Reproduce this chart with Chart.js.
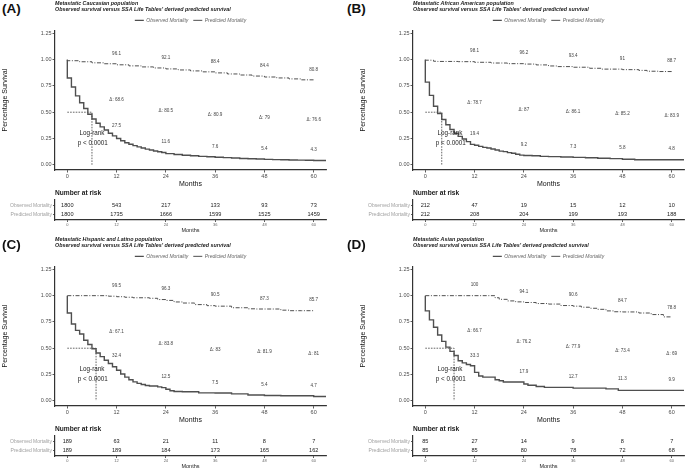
<!DOCTYPE html>
<html><head><meta charset="utf-8">
<script src="https://cdn.jsdelivr.net/npm/chart.js@4.4.1/dist/chart.umd.min.js"></script>
<style>
html,body{margin:0;padding:0;background:#fff;overflow:hidden;width:685px;height:472px;position:relative;}
canvas{position:absolute;}
.lbl{position:absolute;font:bold 13.5px "Liberation Sans",Arial,sans-serif;color:#111;line-height:1;}
</style></head><body>
<script>
// ---------- shared ----------
const xTicks=[0,12,24,36,48,60];
const yTicks=[0,0.25,0.5,0.75,1,1.25];
const labelTimes=[12,24,36,48,60];
const seriesNames=["Observed Mortality","Predicted Mortality"];
const riskRows=["Observed Mortality","Predicted Mortality"];
const subtitleText="Observed survival versus SSA Life Tables' derived predicted survival";

// ---------- Panel A ----------
const titleA="Metastatic Caucasian population";
const obsTimeA=[0,0,1,2,3,4,5,6,7,8,9,10,11,12,13,14,15,16,17,18,19,20,21,22,23,24,26,28,30,32,34,36,38,40,42,44,46,48,50,52,54,56,58,60,62,63];
const obsSurvA=[1,0.92,0.825,0.74,0.655,0.59,0.535,0.48,0.435,0.395,0.36,0.33,0.30,0.275,0.25,0.228,0.21,0.195,0.182,0.17,0.159,0.149,0.14,0.131,0.123,0.116,0.106,0.098,0.091,0.085,0.08,0.076,0.072,0.068,0.064,0.06,0.057,0.054,0.051,0.049,0.047,0.045,0.044,0.043,0.041,0.041];
const predTimeA=[0,3,6,9,12,15,18,21,24,27,30,33,36,39,42,45,48,51,54,57,60];
const predSurvA=[1,0.99,0.98,0.97,0.961,0.951,0.941,0.931,0.921,0.912,0.902,0.893,0.884,0.874,0.864,0.854,0.844,0.835,0.826,0.817,0.808];
const medianA=6;
const predLabA=[96.1,92.1,88.4,84.4,80.8];
const obsLabA=[27.5,11.6,7.6,5.4,4.3];
const deltaLabA=[68.6,80.5,80.9,79,76.6];
const riskObsA=[1800,543,217,133,93,73];
const riskPredA=[1800,1735,1666,1599,1525,1459];

// ---------- Panel B ----------
const titleB="Metastatic African American population";
const obsTimeB=[0,0,1,2,3,4,5,6,7,8,9,10,11,12,13,14,15,16,17,18,19,20,21,22,23,24,26,28,30,33,36,39,42,45,48,51,54,63];
const obsSurvB=[1,0.91,0.786,0.66,0.557,0.487,0.43,0.38,0.335,0.30,0.27,0.245,0.22,0.194,0.185,0.175,0.165,0.16,0.15,0.14,0.13,0.125,0.115,0.11,0.10,0.092,0.088,0.085,0.08,0.077,0.073,0.07,0.066,0.062,0.058,0.053,0.048,0.048];
const predTimeB=[0,2,3,8,12,16,20,24,27,30,32,36,40,43,48,52,54,57,60];
const predSurvB=[1,0.995,0.985,0.983,0.981,0.975,0.968,0.962,0.958,0.95,0.94,0.934,0.928,0.918,0.91,0.905,0.898,0.89,0.887];
const medianB=4;
const predLabB=[98.1,96.2,93.4,91,88.7];
const obsLabB=[19.4,9.2,7.3,5.8,4.8];
const deltaLabB=[78.7,87,86.1,85.2,83.9];
const riskObsB=[212,47,19,15,12,10];
const riskPredB=[212,208,204,199,193,188];

// ---------- Panel C ----------
const titleC="Metastatic Hispanic and Latino population";
const obsTimeC=[0,0,1,2,3,4,5,6,7,8,9,10,11,12,13,14,15,16,17,18,19,20,22,23,24,25,26,28,32,36,40,44,48,52,60,62,63];
const obsSurvC=[1,0.92,0.835,0.73,0.67,0.635,0.575,0.535,0.495,0.455,0.42,0.385,0.355,0.324,0.29,0.255,0.225,0.2,0.18,0.165,0.155,0.145,0.14,0.132,0.125,0.11,0.095,0.088,0.085,0.075,0.073,0.065,0.054,0.05,0.047,0.04,0.04];
const predTimeC=[0,10,12,14,16,20,22,24,26,28,31,34,36,40,44,46,48,52,54,57,60];
const predSurvC=[1,1,0.995,0.99,0.985,0.98,0.975,0.963,0.955,0.94,0.93,0.915,0.905,0.9,0.885,0.875,0.873,0.873,0.862,0.857,0.857];
const medianC=7;
const predLabC=[99.5,96.3,90.5,87.3,85.7];
const obsLabC=[32.4,12.5,7.5,5.4,4.7];
const deltaLabC=[67.1,83.8,83,81.9,81];
const riskObsC=[189,63,21,11,8,7];
const riskPredC=[189,189,184,173,165,162];

// ---------- Panel D ----------
const titleD="Metastatic Asian population";
const obsTimeD=[0,0,1,2,3,4,5,6,7,8,9,10,11,12,13,14,17,18,19,24,25,27,29,36,44,47,53,63];
const obsSurvD=[1,0.92,0.855,0.77,0.70,0.625,0.565,0.51,0.47,0.43,0.38,0.36,0.345,0.333,0.27,0.235,0.225,0.2,0.19,0.179,0.16,0.147,0.135,0.127,0.12,0.113,0.099,0.099];
const predTimeD=[0,17,18,20,22,24,27,30,33,36,38,40,42,44,46,48,52,55,58,60];
const predSurvD=[1,1,0.98,0.965,0.95,0.941,0.935,0.925,0.92,0.906,0.9,0.89,0.88,0.87,0.855,0.847,0.845,0.835,0.82,0.798];
const medianD=7;
const predLabD=[100,94.1,90.6,84.7,78.8];
const obsLabD=[33.3,17.9,12.7,11.3,9.9];
const deltaLabD=[66.7,76.2,77.9,73.4,69];
const riskObsD=[85,27,14,9,8,7];
const riskPredD=[85,85,80,78,72,68];

// ---------- layout ----------
const FONT='"Liberation Sans", Arial, sans-serif';
Chart.defaults.font.family=FONT;
const panels=[
 {tag:'(A)',ox:0,oy:0,lx:2,ly:2,title:titleA,obsT:obsTimeA,obsS:obsSurvA,predT:predTimeA,predS:predSurvA,median:medianA,predLab:predLabA,obsLab:obsLabA,deltaLab:deltaLabA,riskObs:riskObsA,riskPred:riskPredA},
 {tag:'(B)',ox:358,oy:0,lx:347,ly:2,title:titleB,obsT:obsTimeB,obsS:obsSurvB,predT:predTimeB,predS:predSurvB,median:medianB,predLab:predLabB,obsLab:obsLabB,deltaLab:deltaLabB,riskObs:riskObsB,riskPred:riskPredB},
 {tag:'(C)',ox:0,oy:236,lx:2,ly:238,title:titleC,obsT:obsTimeC,obsS:obsSurvC,predT:predTimeC,predS:predSurvC,median:medianC,predLab:predLabC,obsLab:obsLabC,deltaLab:deltaLabC,riskObs:riskObsC,riskPred:riskPredC},
 {tag:'(D)',ox:358,oy:236,lx:347,ly:238,title:titleD,obsT:obsTimeD,obsS:obsSurvD,predT:predTimeD,predS:predSurvD,median:medianD,predLab:predLabD,obsLab:obsLabD,deltaLab:deltaLabD,riskObs:riskObsD,riskPred:riskPredD}
];

const AXIS='#333333';
const LINE='#4f4f4f';

function mkCanvas(left,top,w,h){
  const c=document.createElement('canvas');
  c.width=w;c.height=h;c.style.left=left+'px';c.style.top=top+'px';
  c.style.width=w+'px';c.style.height=h+'px';
  document.body.appendChild(c);return c;
}

function annotPlugin(p){
  return {id:'annot',afterDatasetsDraw(chart){
    const {ctx,scales:{x,y}}=chart;
    ctx.save();ctx.textAlign='center';ctx.textBaseline='middle';
    ctx.font='4.6px '+FONT;ctx.fillStyle='#444';
    labelTimes.forEach((t,i)=>{
      const px=x.getPixelForValue(t);
      ctx.fillText(String(p.predLab[i]),px,y.getPixelForValue(p.predLab[i]/100+0.1));
      ctx.fillText(String(p.obsLab[i]),px,y.getPixelForValue(p.obsLab[i]/100+0.1));
      ctx.fillText('\u0394: '+p.deltaLab[i],px,y.getPixelForValue((p.predLab[i]+p.obsLab[i])/200));
    });
    ctx.font='6.3px '+FONT;ctx.fillStyle='#222';
    ctx.fillText('Log-rank',x.getPixelForValue(6),y.getPixelForValue(0.297));
    ctx.fillText('p < 0.0001',x.getPixelForValue(6.2),y.getPixelForValue(0.2));
    ctx.restore();
  }};
}

function riskPlugin(p){
  return {id:'risk',afterDatasetsDraw(chart){
    const ctx=chart.ctx;
    ctx.save();ctx.textAlign='center';ctx.textBaseline='middle';
    ctx.font='5.6px '+FONT;ctx.fillStyle='#222';
    [p.riskObs,p.riskPred].forEach((vals,di)=>{
      chart.getDatasetMeta(di).data.forEach((el,i)=>{ctx.fillText(String(vals[i]),el.x,el.y);});
    });
    ctx.restore();
  }};
}

function makeMain(p){
  const cv=mkCanvas(p.ox,p.oy,328,188);
  new Chart(cv,{type:'line',
    data:{datasets:[
      {label:seriesNames[0],data:p.obsT.map((t,i)=>({x:t,y:p.obsS[i]})),stepped:'after',borderColor:LINE,borderWidth:1.4,pointRadius:0,fill:false},
      {label:seriesNames[1],data:p.predT.map((t,i)=>({x:t,y:p.predS[i]})),stepped:'after',borderColor:LINE,borderWidth:1,borderDash:[4,1.6,1,1.6],pointRadius:0,fill:false},
      {label:'median',data:[{x:0,y:0.5},{x:p.median,y:0.5},{x:p.median,y:0}],borderColor:'#555',borderWidth:0.9,borderDash:[1.6,1.2],pointRadius:0,fill:false}
    ]},
    options:{responsive:false,animation:false,
      layout:{padding:{left:0,right:2,top:0,bottom:0},autoPadding:false},
      plugins:{
        title:{display:true,text:p.title,align:'start',fullSize:false,color:'#1a1a1a',font:{size:5.35,style:'italic',weight:'bold',lineHeight:1.2},padding:{top:0,bottom:0}},
        subtitle:{display:true,text:subtitleText,align:'start',fullSize:false,color:'#1a1a1a',font:{size:5.35,style:'italic',weight:'bold',lineHeight:1.2},padding:{top:0,bottom:0}},
        legend:{display:true,position:'top',align:'center',fullSize:false,maxHeight:17.4,
          labels:{usePointStyle:true,pointStyle:'line',pointStyleWidth:9,padding:5,color:'#666',font:{size:5,style:'italic'},filter:it=>it.datasetIndex<2}},
        tooltip:{enabled:false}
      },
      scales:{
        x:{type:'linear',min:-3,max:63,
          afterBuildTicks:s=>{s.ticks=xTicks.map(v=>({value:v}));},
          afterFit:s=>{s.height=18;},
          ticks:{font:{size:5.5},color:'#4d4d4d',padding:1,maxRotation:0,autoSkip:false},
          grid:{display:true,drawOnChartArea:false,drawTicks:true,tickLength:2.5,color:AXIS,lineWidth:0.8},
          border:{display:true,color:AXIS,width:1.2},
          title:{display:true,text:'Months',color:'#111',font:{size:7},padding:{top:0,bottom:0}}},
        y:{type:'linear',min:-0.05,max:1.28,
          afterBuildTicks:s=>{s.ticks=yTicks.map(v=>({value:v}));},
          afterFit:s=>{s.width=55;},
          ticks:{font:{size:5.5},color:'#4d4d4d',padding:1,callback:v=>v.toFixed(2)},
          grid:{display:true,drawOnChartArea:false,drawTicks:true,tickLength:2.5,color:AXIS,lineWidth:0.8},
          border:{display:true,color:AXIS,width:1.2},
          title:{display:true,text:'Percentage Survival',color:'#111',font:{size:7},padding:{top:1,bottom:0}}}
      }
    },
    plugins:[annotPlugin(p)]
  });
}

function makeRisk(p){
  const cv=mkCanvas(p.ox,p.oy+186,328,48);
  new Chart(cv,{type:'line',
    data:{datasets:[
      {label:riskRows[0],data:xTicks.map(t=>({x:t,y:1})),showLine:false,pointRadius:0},
      {label:riskRows[1],data:xTicks.map(t=>({x:t,y:2})),showLine:false,pointRadius:0}
    ]},
    options:{responsive:false,animation:false,
      layout:{padding:{left:0,right:2,top:0,bottom:0},autoPadding:false},
      plugins:{
        legend:{display:false},tooltip:{enabled:false},
        title:{display:true,text:'Number at risk',align:'start',fullSize:false,color:'#1a1a1a',font:{size:6.6,lineHeight:1.2},padding:{top:3,bottom:3}}
      },
      scales:{
        x:{type:'linear',min:-3,max:63,
          afterBuildTicks:s=>{s.ticks=xTicks.map(v=>({value:v}));},
          afterFit:s=>{s.height=14;},
          ticks:{font:{size:4},color:'#666',padding:0.5,maxRotation:0,autoSkip:false},
          grid:{display:true,drawOnChartArea:false,drawTicks:true,tickLength:2,color:AXIS,lineWidth:0.8},
          border:{display:true,color:AXIS,width:1.2},
          title:{display:true,text:'Months',color:'#222',font:{size:5.5},padding:{top:0,bottom:0}}},
        y:{type:'linear',reverse:true,min:0.4,max:2.6,
          afterBuildTicks:s=>{s.ticks=[{value:1},{value:2}];},
          afterFit:s=>{s.width=55;},
          ticks:{font:{size:5},color:'#a0a0a0',padding:1,callback:v=>riskRows[Math.round(v)-1]},
          grid:{display:true,drawOnChartArea:false,drawTicks:true,tickLength:2,color:AXIS,lineWidth:0.8},
          border:{display:true,color:AXIS,width:1.2}}
      }
    },
    plugins:[riskPlugin(p)]
  });
}

panels.forEach(p=>{
  const d=document.createElement('div');d.className='lbl';d.textContent=p.tag;
  d.style.left=p.lx+'px';d.style.top=p.ly+'px';document.body.appendChild(d);
  makeMain(p);makeRisk(p);
});
</script>
</body></html>
